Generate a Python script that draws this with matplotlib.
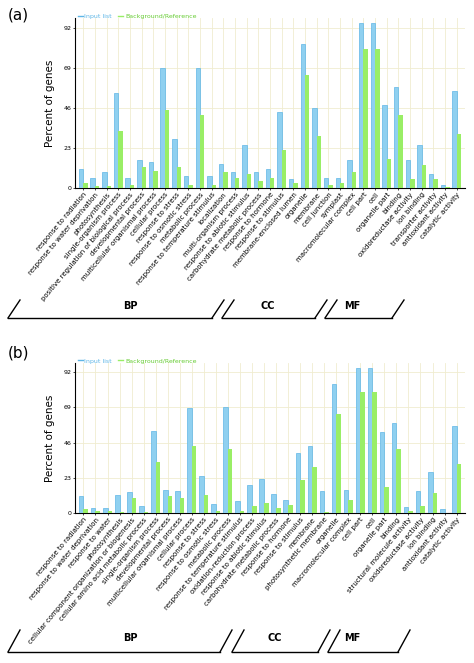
import matplotlib
matplotlib.use("Agg")
import matplotlib.pyplot as plt
import numpy as np
from matplotlib.lines import Line2D

cats_a = ["response to radiation","response to water deprivation","photosynthesis","single-organism process",
"positive regulation of biological process","developmental process","multicellular organismal process",
"cellular process","response to stress","response to osmotic stress","metabolic process",
"response to temperature stimulus","localization","multi-organism process","response to abiotic stimulus",
"carbohydrate metabolic process","response to hormone","response to stimulus","membrane-enclosed lumen",
"organelle","membrane","cell junction","symplast","macromolecular complex","cell part","cell",
"organelle part","binding","oxidoreductase activity","ion binding","transporter activity",
"antioxidant activity","catalytic activity"]
input_a = [11,6,9,55,6,16,15,69,28,7,69,7,14,9,25,9,11,44,5,83,46,6,6,16,95,95,48,58,16,25,8,2,56]
bg_a = [3,1,1,33,2,12,10,45,12,2,42,2,9,6,8,4,6,22,3,65,30,2,3,9,80,80,17,42,5,13,5,0.5,31]

cats_b = ["response to radiation","response to water deprivation","response to water","photosynthesis",
"cellular component organization or biogenesis","cellular amino acid metabolic process",
"single-organism process","developmental process","multicellular organismal process","cellular process",
"response to stress","response to osmotic stress","metabolic process","response to temperature stimulus",
"oxidation-reduction process","response to abiotic stimulus","carbohydrate metabolic process",
"response to hormone","response to stimulus","membrane","photosynthetic membrane","organelle",
"macromolecular complex","cell part","cell","organelle part","binding","structural molecule activity",
"oxidoreductase activity","ion binding","antioxidant activity","catalytic activity"]
input_b = [10.8,3.5,3.5,11.5,14,4.7,53.5,15,14.7,68.5,24,5.7,69,7.8,18,22.5,12.3,8.6,39,43.5,14.3,84.5,15.3,95,95,52.7,59,4,14.7,26.6,2.5,56.7]
bg_b = [2.5,1,1,0.5,9.5,0.5,33,11,10,44,12,1.5,42,1.5,4.7,6.5,3.5,5,21.5,30,0.8,65,8.8,79.3,79.3,16.8,42,1,4.7,13,0,31.7]

yticks = [0,23,46,69,92]
BLUE = "#8fd0f0"; BLUE_E = "#5fb6e6"; GREEN = "#99ee66"

W, H = 474, 663
fig = plt.figure(figsize=(W/100, H/100), dpi=100)

def panel(rect, cats, vin, vbg, tag, ytag):
    ax = fig.add_axes(rect)
    x = np.arange(len(cats))
    ax.bar(x-0.19, vin, 0.38, color=BLUE, edgecolor=BLUE_E, linewidth=0.5, zorder=3)
    ax.bar(x+0.19, vbg, 0.38, color=GREEN, edgecolor="none", zorder=3)
    ax.set_xlim(-0.7, len(cats)-0.3)
    ax.set_ylim(0, 98)
    ax.set_yticks(yticks)
    ax.set_yticklabels([str(t) for t in yticks], fontsize=4.5)
    ax.set_xticks(x)
    ax.set_xticklabels(cats, rotation=50, ha="right", rotation_mode="anchor", fontsize=5)
    ax.tick_params(length=1.5, width=0.5, pad=1)
    ax.grid(True, color="#f0ecd0", linewidth=0.6, zorder=0)
    for s in ["top","right"]:
        ax.spines[s].set_visible(False)
    ax.spines["left"].set_linewidth(0.8); ax.spines["bottom"].set_linewidth(0.8)
    ax.set_ylabel("Percent of genes", fontsize=7.5, labelpad=6)
    h = [Line2D([],[],color=BLUE_E,lw=1), Line2D([],[],color=GREEN,lw=1)]
    ax.legend(h, ["Input list","Background/Reference"], loc="lower left", bbox_to_anchor=(0.0,0.98),
              ncol=2, frameon=False, fontsize=4.5, handlelength=0.8, handletextpad=0.3,
              columnspacing=1.0, labelcolor=[BLUE_E, "#66cc33"], borderaxespad=0)
    fig.text(8/W, 1-ytag/H, tag, fontsize=11, va="top")
    return ax

panel([75/W, 1-188/H, 390/W, 170/H], cats_a, input_a, bg_a, "(a)", 8)
panel([75/W, 1-513/H, 390/W, 150/H], cats_b, input_b, bg_b, "(b)", 345)

def bracket(x0, x1, ytop, ybot, label, lx):
    yt, yb = 1-ytop/H, 1-ybot/H
    sl = 12
    fig.add_artist(Line2D([x0/W,(x0+sl)/W],[yb,yt], color="k", lw=1))
    fig.add_artist(Line2D([x0/W,x1/W],[yb,yb], color="k", lw=1))
    fig.add_artist(Line2D([x1/W,(x1+sl)/W],[yb,yt], color="k", lw=1))
    fig.text(lx/W, (yt+yb)/2+3/H, label, fontsize=7, fontweight="bold", ha="center", va="center")

for (ytop,ybot,groups) in [(300,318,[(8,212,"BP",130),(222,315,"CC",268),(325,392,"MF",352)]),
                            (630,652,[(8,220,"BP",130),(232,318,"CC",275),(328,398,"MF",352)])]:
    for x0,x1,lab,lx in groups:
        bracket(x0,x1,ytop,ybot,lab,lx)

fig.savefig("out.png", dpi=100, facecolor="white")
